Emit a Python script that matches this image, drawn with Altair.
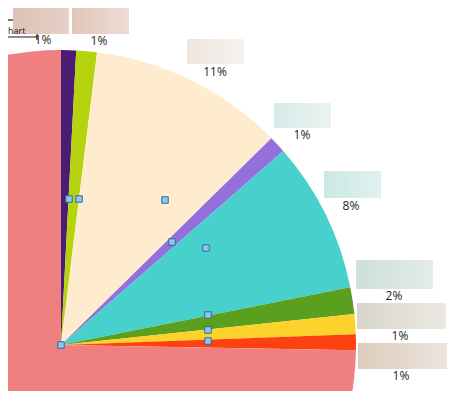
import altair as alt
import pandas as pd

# ---- pie data (clockwise from 12 o'clock) ----
slices = ["Slice 1", "Slice 2", "Slice 3", "Slice 4", "Slice 5",
          "Slice 6", "Slice 7", "Slice 8", "Slice 9"]
values = [0.82, 1.13, 10.69, 0.94, 8.28, 1.47, 1.09, 0.86, 74.72]
colors = ["#4a1c72", "#b5d30e", "#ffebcd", "#9370db", "#48d1cc",
          "#5a9f1d", "#fdd22a", "#fe4110", "#f08080"]

# pie centre in page pixel coordinates (the chart is a cropped view)
pie_center = [61, 345]

# ---- label boxes ----
label_text = ["1%", "1%", "11%", "1%", "8%", "2%", "1%", "1%"]
box_x1 = [13, 72, 187, 274, 324, 356, 357, 358]
box_x2 = [69, 129, 244, 331, 381, 433, 446, 447]
box_y1 = [8, 8, 39, 103, 171, 260, 303, 343]
box_y2 = [34, 34, 64, 128, 198, 289, 329, 369]
text_x = [43, 99, 215, 302, 351, 394, 400, 401]
text_y = [40, 41, 72, 135, 206, 296, 336, 376]
grad_start = ["#dfc1b6", "#e3c6ba", "#eee6df", "#d8ebe8", "#cbe8e4",
              "#cee0d7", "#d8d5cb", "#dccbbb"]
grad_end = ["#e7d0c7", "#ecdcd3", "#f6f2ef", "#e9f3f2", "#e1f1ef",
            "#e4ece8", "#ece9e4", "#ede5de"]

# ---- selection handles ----
handle_x = [69, 79, 165, 172, 206, 208, 208, 208, 61]
handle_y = [199, 199, 200, 242, 248, 315, 330, 341, 345]

# ---- truncated "Chart" tag ----
tag_text = ["hart"]
tag_x = [8]
tag_y = [31]
tag_line_x1 = [0, 37, 0]
tag_line_x2 = [37, 37, 13]
tag_line_y1 = [37, 34, 20]
tag_line_y2 = [37, 40, 20]

W, H = 458, 383
xs = alt.Scale(domain=[8, 8 + W], nice=False, zero=False)
ys = alt.Scale(domain=[8, 8 + H], nice=False, zero=False, reverse=True)

pie_df = pd.DataFrame({"slice": slices, "value": values, "idx": list(range(len(slices)))})
pie = alt.Chart(pie_df).mark_arc(outerRadius=295).encode(
    theta=alt.Theta("value:Q", stack=True),
    order=alt.Order("idx:Q"),
    color=alt.Color("slice:N", scale=alt.Scale(domain=slices, range=colors), legend=None),
    x=alt.XDatum(pie_center[0], scale=xs, axis=None),
    y=alt.YDatum(pie_center[1], scale=ys, axis=None),
)

tag_df = pd.DataFrame({"t": tag_text, "x": tag_x, "y": tag_y})
tag_text_layer = alt.Chart(tag_df).mark_text(
    align="left", baseline="middle", font="Open Sans", fontSize=9, color="#1a1a1a"
).encode(
    x=alt.X("x:Q", scale=xs, axis=None),
    y=alt.Y("y:Q", scale=ys, axis=None),
    text="t:N",
)
tag_lines_df = pd.DataFrame({"x": tag_line_x1, "x2": tag_line_x2,
                             "y": tag_line_y1, "y2": tag_line_y2})
tag_lines = alt.Chart(tag_lines_df).mark_rule(color="#1a1a1a", strokeWidth=1.2).encode(
    x=alt.X("x:Q", scale=xs, axis=None), x2="x2:Q",
    y=alt.Y("y:Q", scale=ys, axis=None), y2="y2:Q",
)

box_df = pd.DataFrame({"x": box_x1, "x2": box_x2, "y": box_y1, "y2": box_y2,
                       "i": list(range(len(box_x1)))})
box_layers = []
for i in range(len(box_x1)):
    grad = alt.LinearGradient(
        gradient="linear", x1=0, x2=1, y1=0, y2=0,
        stops=[alt.GradientStop(color=grad_start[i], offset=0),
               alt.GradientStop(color=grad_end[i], offset=1)],
    )
    box_layers.append(
        alt.Chart(box_df).transform_filter(alt.datum.i == i).mark_rect(
            color=grad, opacity=1
        ).encode(
            x=alt.X("x:Q", scale=xs, axis=None), x2="x2:Q",
            y=alt.Y("y:Q", scale=ys, axis=None), y2="y2:Q",
        )
    )

text_df = pd.DataFrame({"t": label_text, "x": text_x, "y": text_y})
texts = alt.Chart(text_df).mark_text(
    align="center", baseline="middle", font="Open Sans", fontSize=12, color="#262626"
).encode(
    x=alt.X("x:Q", scale=xs, axis=None),
    y=alt.Y("y:Q", scale=ys, axis=None),
    text="t:N",
)

handle_df = pd.DataFrame({"x": handle_x, "y": handle_y})
handles = alt.Chart(handle_df).mark_square(
    size=42, fill="#8ec8e8", stroke="#2f6aa6", strokeWidth=1, opacity=1
).encode(
    x=alt.X("x:Q", scale=xs, axis=None),
    y=alt.Y("y:Q", scale=ys, axis=None),
)

chart = alt.layer(pie, *box_layers, tag_lines, tag_text_layer, texts, handles).properties(
    width=W, height=H, padding=0, autosize=alt.AutoSizeParams(type="none")
).configure_view(strokeWidth=0)

chart.save("out.html", embed_options={"renderer": "svg", "actions": False})
